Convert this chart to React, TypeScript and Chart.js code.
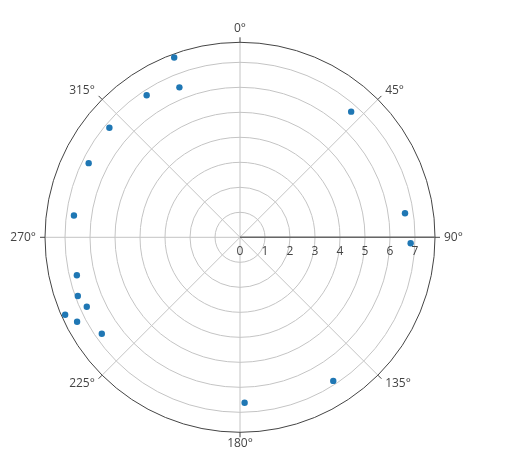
import { useEffect, useRef } from "react"
import { Chart, registerables, Plugin } from "chart.js"

Chart.register(...registerables)

// polar data: angle in degrees (clockwise from north) and radius
const thetaDeg = [339.9, 338.0, 326.7, 310.0, 296.1, 277.5, 41.5, 81.7, 92.0, 256.9, 250.1, 245.6, 246.1, 242.6, 235.1, 178.4, 147.0]
const rValues = [7.66, 6.47, 6.8, 6.82, 6.74, 6.7, 6.71, 6.67, 6.83, 6.7, 6.9, 6.73, 7.65, 7.34, 6.74, 6.62, 6.85]

const radialTicks = [0, 1, 2, 3, 4, 5, 6, 7]
const angularTicks = [0, 45, 90, 135, 180, 225, 270, 315]
const radialMax = 7.8

const FONT = '12px "Open Sans", sans-serif'
const TEXT = "#444"

const polarGrid: Plugin<"scatter"> = {
  id: "polarGrid",
  beforeDatasetsDraw(chart) {
    const { ctx, scales } = chart
    const xs = scales.x
    const ys = scales.y
    const cx = xs.getPixelForValue(0)
    const cy = ys.getPixelForValue(0)
    const unit = xs.getPixelForValue(1) - cx
    const R = radialMax * unit
    const rad = (d: number) => (d * Math.PI) / 180

    ctx.save()
    // circles
    ctx.strokeStyle = "#c4c4c4"
    ctx.lineWidth = 1
    radialTicks.forEach((t) => {
      if (t === 0) return
      ctx.beginPath()
      ctx.arc(cx, cy, t * unit, 0, Math.PI * 2)
      ctx.stroke()
    })
    // spokes
    angularTicks.forEach((a) => {
      ctx.beginPath()
      ctx.moveTo(cx, cy)
      ctx.lineTo(cx + R * Math.sin(rad(a)), cy - R * Math.cos(rad(a)))
      ctx.stroke()
    })
    // outer border
    ctx.strokeStyle = TEXT
    ctx.beginPath()
    ctx.arc(cx, cy, R, 0, Math.PI * 2)
    ctx.stroke()
    // angular ticks and labels
    ctx.font = FONT
    ctx.fillStyle = TEXT
    angularTicks.forEach((a) => {
      const s = Math.sin(rad(a))
      const c = Math.cos(rad(a))
      ctx.beginPath()
      ctx.moveTo(cx + R * s, cy - R * c)
      ctx.lineTo(cx + (R + 5) * s, cy - (R + 5) * c)
      ctx.stroke()
      let x = cx + (R + 6) * s
      let y = cy - (R + 6) * c
      const diag = Math.abs(s) > 0.01
      if (s > 0.01) {
        ctx.textAlign = "left"
        x += 3
      } else if (s < -0.01) {
        ctx.textAlign = "right"
        x -= 3
      } else ctx.textAlign = "center"
      if (c > 0.01) {
        ctx.textBaseline = "alphabetic"
        y -= diag ? 1 : 4
      } else if (c < -0.01) {
        ctx.textBaseline = "top"
        y -= diag ? 2 : 1
      } else ctx.textBaseline = "middle"
      ctx.fillText(a + "°", x, y)
    })
    // radial axis line along 90°
    ctx.strokeStyle = "#666"
    ctx.lineWidth = 1.5
    ctx.beginPath()
    ctx.moveTo(cx, cy)
    ctx.lineTo(cx + R, cy)
    ctx.stroke()
    ctx.textAlign = "center"
    ctx.textBaseline = "top"
    radialTicks.forEach((t) => {
      ctx.fillText(String(t), cx + t * unit, cy + 8)
    })
    ctx.restore()
  },
}

export default function App() {
  const chartRef = useRef<HTMLCanvasElement>(null)
  const chartInstance = useRef<Chart | null>(null)

  useEffect(() => {
    if (!chartRef.current) return
    if (chartInstance.current) chartInstance.current.destroy()
    const ctx = chartRef.current.getContext("2d")
    if (!ctx) return

    const points = thetaDeg.map((a, i) => ({
      x: rValues[i] * Math.sin((a * Math.PI) / 180),
      y: rValues[i] * Math.cos((a * Math.PI) / 180),
    }))

    // 25px per unit, centre at (240, 237.3)
    chartInstance.current = new Chart(ctx, {
      type: "scatter",
      data: {
        datasets: [
          {
            data: points,
            backgroundColor: "#1f77b4",
            borderColor: "#1f77b4",
            borderWidth: 0,
            pointRadius: 3.2,
          },
        ],
      },
      options: {
        animation: false,
        responsive: true,
        maintainAspectRatio: false,
        layout: { padding: 0, autoPadding: false },
        scales: {
          x: { display: false, min: -240 / 25, max: 275 / 25 },
          y: { display: false, min: -(473 - 237.3) / 25, max: 237.3 / 25 },
        },
        plugins: {
          legend: { display: false },
          tooltip: { enabled: false },
        },
      },
      plugins: [polarGrid],
    })

    return () => {
      if (chartInstance.current) {
        chartInstance.current.destroy()
        chartInstance.current = null
      }
    }
  }, [])

  return (
    <div style={{ position: "absolute", left: 0, top: 0, width: 515, height: 473, background: "#fff" }}>
      <canvas ref={chartRef} />
    </div>
  )
}
